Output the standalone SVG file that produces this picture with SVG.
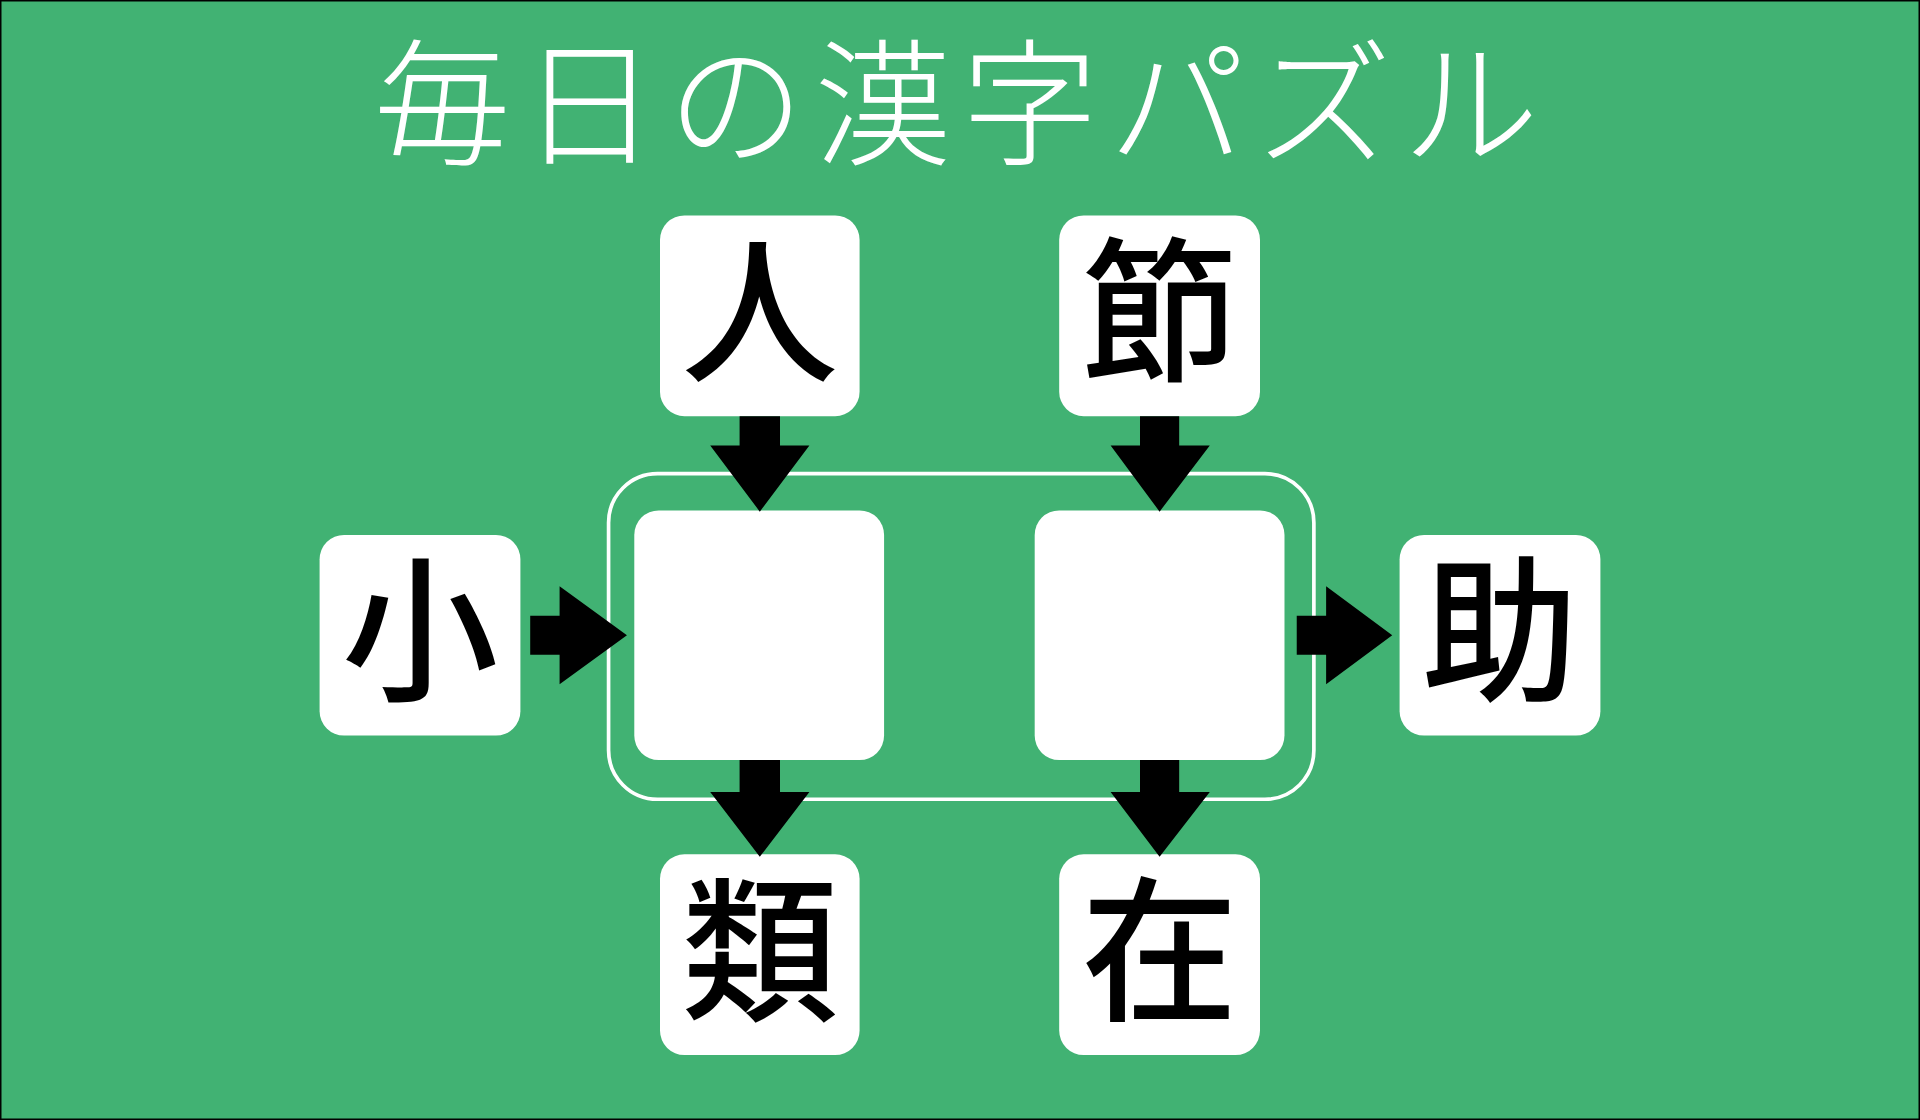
<svg xmlns="http://www.w3.org/2000/svg" width="1920" height="1120" viewBox="0 0 1920 1120">
<style>
.box{fill:#fff}
.ch{font-family:"Noto Sans CJK JP",sans-serif;font-size:128px;font-weight:500;fill:#000;text-anchor:middle}
.ar{fill:#000}
</style>
<rect x="0" y="0" width="1920" height="1120" fill="#41B273"/>
<rect x="0.5" y="0.5" width="1919" height="1119" fill="none" stroke="#000" stroke-width="2"/>
<g transform="scale(1.22449 1.2240)">
<text x="785" y="127" font-family="Noto Sans CJK JP,sans-serif" font-size="112" font-weight="300" fill="#fff" text-anchor="middle" letter-spacing="8">毎日の漢字パズル</text>
<rect x="497" y="387" width="576" height="266" rx="40" fill="none" stroke="#fff" stroke-width="3"/>
<g id="n-hito"><rect class="box" x="539" y="176" width="163" height="164" rx="20"/><text class="ch" x="620.5" y="302">人</text></g>
<g id="n-setsu"><rect class="box" x="865" y="176" width="164" height="164" rx="20"/><text class="ch" x="947" y="302">節</text></g>
<g id="n-shou"><rect class="box" x="261" y="437" width="164" height="164" rx="20"/><text class="ch" x="343" y="563">小</text></g>
<g id="n-blank1"><rect class="box" x="518" y="417" width="204" height="204" rx="20"/></g>
<g id="n-blank2"><rect class="box" x="845" y="417" width="204" height="204" rx="20"/></g>
<g id="n-jo"><rect class="box" x="1143" y="437" width="164" height="164" rx="20"/><text class="ch" x="1225" y="563">助</text></g>
<g id="n-rui"><rect class="box" x="539" y="698" width="163" height="164" rx="20"/><text class="ch" x="620.5" y="824">類</text></g>
<g id="n-zai"><rect class="box" x="865" y="698" width="164" height="164" rx="20"/><text class="ch" x="947" y="824">在</text></g>
<g id="connectors">
<polygon class="ar" points="604,340 637,340 637,364 661,364 620.5,418 580,364 604,364"/>
<polygon class="ar" points="931,340 963,340 963,364 988,364 947,418 907,364 931,364"/>
<polygon class="ar" points="604,621 637,621 637,647 661,647 620.5,700 580,647 604,647"/>
<polygon class="ar" points="931,621 963,621 963,647 988,647 947,700 907,647 931,647"/>
<polygon class="ar" points="433,503 457,503 457,479 512,519 457,559 457,535 433,535"/>
<polygon class="ar" points="1059,503 1083,503 1083,479 1137,519 1083,559 1083,535 1059,535"/>
</g>
</g>
</svg>
